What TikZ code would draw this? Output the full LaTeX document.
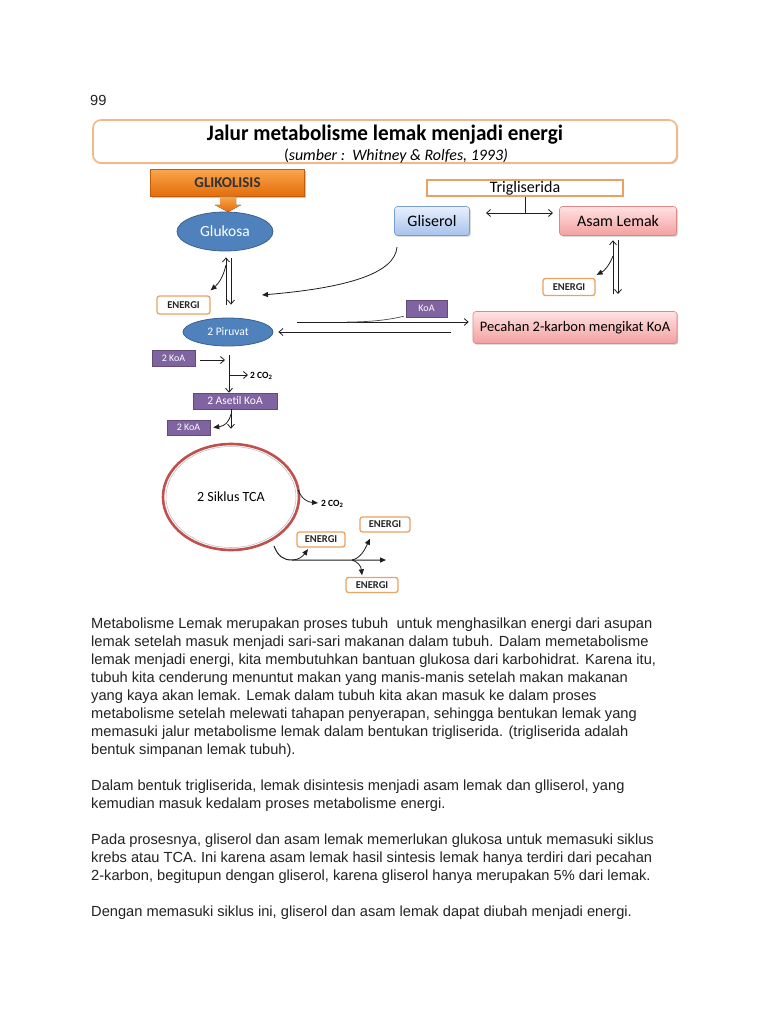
\documentclass[tikz,border=0pt]{standalone}
\usepackage{fontspec}
\setmainfont{Liberation Sans}
\newfontfamily\cf{Carlito}
\usetikzlibrary{arrows.meta,shapes.geometric,shadows}
\definecolor{orng}{RGB}{234,162,98}
\definecolor{orngl}{RGB}{240,185,135}
\definecolor{blu}{RGB}{79,129,189}
\definecolor{purp}{RGB}{128,100,162}
\definecolor{pinkT}{RGB}{255,226,226}
\definecolor{pinkB}{RGB}{243,160,160}
\definecolor{pinkD}{RGB}{222,135,135}
\definecolor{bluT}{RGB}{232,240,253}
\definecolor{bluB}{RGB}{166,194,236}
\definecolor{bluD}{RGB}{120,158,212}
\definecolor{tcared}{RGB}{192,80,77}
\definecolor{txt}{RGB}{35,35,35}
\definecolor{ln}{RGB}{30,30,30}
\definecolor{glT}{RGB}{250,165,75}
\definecolor{glB}{RGB}{228,108,10}
\tikzset{
  shd/.style={drop shadow={shadow xshift=1.2pt,shadow yshift=-1.2pt,opacity=0.22,fill=black}},
  energi/.style={draw=orng,line width=1.3pt,rounded corners=2.5pt,fill=white,
    minimum width=50pt,minimum height=16pt,inner sep=0pt,
    font=\cf\bfseries\fontsize{10.5}{12}\selectfont,text=black!85},
  bluell/.style={ellipse,fill=blu,draw=blu!75!black,line width=0.8pt,text=white,inner sep=0pt},
  purpbox/.style={fill=purp,draw=purp!75!black,line width=0.5pt,text=white,inner sep=0pt,
    font=\cf\fontsize{10}{11}\selectfont,shd},
  pinkbox/.style={rounded corners=3pt,top color=pinkT,bottom color=pinkB,draw=pinkD,line width=0.6pt,
    inner sep=0pt,shd},
  bluebox/.style={rounded corners=3pt,top color=bluT,bottom color=bluB,draw=bluD,line width=0.6pt,
    inner sep=0pt,shd},
  arr/.style={-{Straight Barb[length=4pt,width=7pt]},line width=0.8pt,draw=ln},
  tri/.style={-{Triangle[length=6pt,width=5pt]},line width=0.8pt,draw=ln},
  body/.style={anchor=base west,inner sep=0pt,text=txt,font=\fontsize{14.65}{17}\selectfont},
}
\begin{document}
\begin{tikzpicture}[x=1pt,y=-1pt]
\path[use as bounding box,fill=white] (0,0) rectangle (768,1024);

\node[body] (pg) at (90,106) {99};

% title
\node[draw=orngl,line width=1.6pt,rounded corners=8pt,fill=white,minimum width=584pt,minimum height=43pt,shd] (tb) at (385,141.5) {};
\node[anchor=base,inner sep=0pt] (tt) at (385,141) {\cf\resizebox{356pt}{15.5pt}{\bfseries Jalur metabolisme lemak menjadi energi}};
\node[anchor=base,inner sep=0pt] (ts) at (396,160.5) {\cf\resizebox{224pt}{!}{(\itshape sumber :\ \ Whitney \& Rolfes, 1993)}};

% glikolisis
\node[top color=glT,bottom color=glB,draw=glB!85!black,line width=0.6pt,
  minimum width=154pt,minimum height=27pt,inner sep=0pt,shd,
  font=\cf\bfseries\fontsize{15}{16}\selectfont,text=black!80] (gk) at (227.5,183) {GLIKOLISIS};
\fill[top color=glT,bottom color=glB] (220,196.5) -- (236,196.5) -- (236,205) -- (241,205) -- (228,212) -- (215,205) -- (220,205) -- cycle;

\node[bluell,minimum width=96pt,minimum height=39pt,font=\cf\fontsize{15.5}{16}\selectfont] (glu) at (225,231.5) {Glukosa};
\node[bluell,minimum width=90pt,minimum height=28pt,font=\cf\fontsize{11.5}{12}\selectfont] (pir) at (228,332) {2 Piruvat};

% glukosa <-> piruvat
\draw[arr,shorten <=13pt,shorten >=6pt] ([xshift=-2pt]pir.north) -- ([xshift=1pt]glu.south);
\draw[arr,shorten <=7pt,shorten >=13pt] ([xshift=6pt]glu.south) -- ([xshift=3pt]pir.north);
\node[energi,minimum width=53pt,minimum height=18pt] (en1) at (183.5,305) {ENERGI};
\coordinate (g1) at (226,265);
\draw[tri] (g1) .. controls (223,278) and (218,284) .. ([xshift=0pt,yshift=5pt]en1.north east);

% trigliserida
\node[draw=orng,line width=1.2pt,minimum width=196pt,minimum height=16pt,inner sep=0pt,
  font=\cf\fontsize{16}{16}\selectfont] (trg) at (525,188) {Trigliserida};
\node[bluebox,minimum width=75pt,minimum height=29pt,font=\cf\fontsize{16}{16}\selectfont] (gli) at (432,221) {Gliserol};
\node[pinkbox,minimum width=117pt,minimum height=29pt,font=\cf\fontsize{16}{16}\selectfont] (asl) at (618,221) {Asam Lemak};
\coordinate (ts0) at (525,213);
\coordinate (tsl) at (486,213);
\coordinate (tsr) at (553,213);
\draw[line width=0.8pt,draw=ln] (trg.south) -- (ts0);
\draw[arr,{Straight Barb[length=4pt,width=7pt]}-{Straight Barb[length=4pt,width=7pt]}] (tsl) -- (tsr);

% gliserol curve to piruvat area
\coordinate (gc0) at (397,247);
\coordinate (gc1) at (262,295);
\draw[tri] (gc0) .. controls (395,274) and (345,288) .. (gc1);

% asam lemak double arrow
\coordinate (al1) at (613,294);
\coordinate (al2) at (618,294);
\draw[arr,shorten >=4.5pt] (al1) -- ([xshift=-5pt]asl.south);
\draw[arr,shorten <=4.5pt] (asl.south) -- (al2);
\node[energi,minimum width=52pt,minimum height=17pt] (en2) at (569,287) {ENERGI};
\coordinate (al3) at (613,256);
\draw[tri] (al3) .. controls (609,266) and (604,271) .. ([xshift=1pt,yshift=3pt]en2.north east);

% KoA / pecahan
\node[purpbox,minimum width=41pt,minimum height=17pt] (koa) at (426.5,308.5) {KoA};
\node[pinkbox,minimum width=204pt,minimum height=32pt,font=\cf\fontsize{14.5}{15}\selectfont] (pec) at (575,327.5) {Pecahan 2-karbon mengikat KoA};
\coordinate (up0) at (297,322);
\coordinate (lw0) at (451,332);
\coordinate (km) at (347,322);
\draw[arr,shorten >=4pt] (up0) -- ([yshift=5.5pt]pec.west);
\draw[arr,shorten >=5pt] (lw0) -- (pir.east);
\draw[line width=0.7pt,draw=ln!80] ([xshift=-2pt,yshift=1pt]koa.south west) .. controls (388,320) and (370,322) .. (km);

% 2 KoA, asetil
\node[purpbox,minimum width=43pt,minimum height=16pt] (k1) at (173.5,358) {2 KoA};
\coordinate (k1e) at (225,360);
\draw[arr,shorten <=5pt] ([yshift=-2pt]k1.east) -- (k1e);
\node[purpbox,minimum width=84pt,minimum height=16pt,font=\cf\fontsize{11.5}{12}\selectfont] (as) at (235,401) {2 Asetil KoA};
\draw[arr,shorten <=9pt] ([xshift=1pt]pir.south) -- ([xshift=-6pt]as.north);
\coordinate (c1a) at (229,375);
\coordinate (c1b) at (248,375);
\draw[arr] (c1a) -- (c1b);
\node[anchor=west,inner sep=0pt,font=\cf\bfseries\fontsize{9.5}{10}\selectfont] (co1) at (250,376) {2 CO\textsubscript{2}};

\node[ellipse,draw=tcared,line width=2.6pt,minimum width=136pt,minimum height=106pt,inner sep=0pt,
  font=\cf\fontsize{14}{15}\selectfont] (tca) at (231,497) {2 Siklus TCA};
\draw[gray!55,line width=0.5pt] (tca.center) ellipse (65 and 50.5);
\draw[arr,shorten >=14pt] ([xshift=-4pt]as.south) -- (tca.north);
\node[purpbox,minimum width=43pt,minimum height=15pt] (k2) at (188.5,427.5) {2 KoA};
\coordinate (k2a) at (231,414);
\draw[tri] (k2a) .. controls (229,422) and (225,426) .. ([xshift=3pt]k2.east);

% CO2 from TCA
\coordinate (t1) at (298,490);
\coordinate (t2) at (318,503);
\draw[tri] (t1) .. controls (302,499) and (307,502) .. (t2);
\node[anchor=west,inner sep=0pt,font=\cf\bfseries\fontsize{9.5}{10}\selectfont] (co2) at (321,504) {2 CO\textsubscript{2}};

% energi outputs
\node[energi,minimum width=48pt,minimum height=15pt] (en3) at (321,539.5) {ENERGI};
\node[energi,minimum width=50pt,minimum height=15pt] (en4) at (385,524.5) {ENERGI};
\node[energi,minimum width=52pt,minimum height=15pt] (en5) at (372,585) {ENERGI};
\coordinate (b0) at (274,546);
\coordinate (b1) at (292,560);
\coordinate (b2) at (386,560);
\coordinate (b3) at (352,560);
\draw[tri,line width=1pt] (b0) .. controls (278,556) and (283,560) .. (b1) -- (b2);
\draw[tri] (b1) .. controls (299,560) and (303,556) .. ([xshift=-13pt,yshift=-1.5pt]en3.south);
\draw[tri] (b3) .. controls (361,558) and (365,549) .. ([xshift=-15pt,yshift=-6pt]en4.south);
\draw[tri] (b3) .. controls (358,562) and (361,566) .. ([xshift=-10pt,yshift=1.5pt]en5.north);

% body text
\node[body] (l1) at (91,628) {Metabolisme Lemak merupakan proses tubuh\ \ untuk menghasilkan energi dari asupan};
\node[body] (l2) at (91,646) {lemak setelah masuk menjadi sari-sari makanan dalam tubuh. Dalam memetabolisme};
\node[body] (l3) at (91,664) {lemak menjadi energi, kita membutuhkan bantuan glukosa dari karbohidrat. Karena itu,};
\node[body] (l4) at (91,682) {tubuh kita cenderung menuntut makan yang manis-manis setelah makan makanan};
\node[body] (l5) at (91,700) {yang kaya akan lemak. Lemak dalam tubuh kita akan masuk ke dalam proses};
\node[body] (l6) at (91,718) {metabolisme setelah melewati tahapan penyerapan, sehingga bentukan lemak yang};
\node[body] (l7) at (91,736) {memasuki jalur metabolisme lemak dalam bentukan trigliserida. (trigliserida adalah};
\node[body] (l8) at (91,754) {bentuk simpanan lemak tubuh).};
\node[body] (l9) at (91,790) {Dalam bentuk trigliserida, lemak disintesis menjadi asam lemak dan glliserol, yang};
\node[body] (l10) at (91,808) {kemudian masuk kedalam proses metabolisme energi.};
\node[body] (l11) at (91,844) {Pada prosesnya, gliserol dan asam lemak memerlukan glukosa untuk memasuki siklus};
\node[body] (l12) at (91,862) {krebs atau TCA. Ini karena asam lemak hasil sintesis lemak hanya terdiri dari pecahan};
\node[body] (l13) at (91,880) {2-karbon, begitupun dengan gliserol, karena gliserol hanya merupakan 5\% dari lemak.};
\node[body] (l14) at (91,916) {Dengan memasuki siklus ini, gliserol dan asam lemak dapat diubah menjadi energi.};
\end{tikzpicture}
\end{document}
